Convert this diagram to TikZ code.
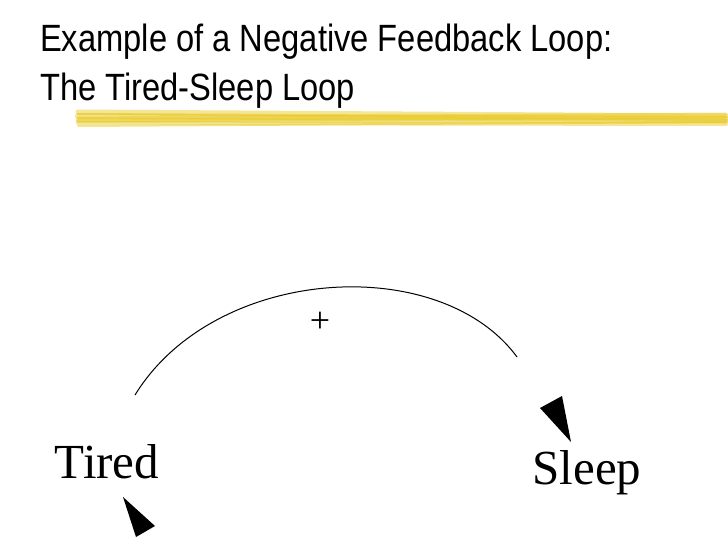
\documentclass[tikz,border=0pt]{standalone}
\usepackage{fontspec}
\setmainfont{Liberation Serif}
\newfontfamily\titlefont{Liberation Sans}
\begin{document}
\begin{tikzpicture}[x=1pt,y=-1pt,
  titletext/.style={anchor=base west,inner sep=0pt,font=\titlefont\fontsize{38}{38}\selectfont,xscale=0.86},
  label/.style={anchor=base,inner sep=0pt,font=\fontsize{49}{49}\selectfont},
  brush/.style={draw=yellow!75!orange!90!black,line cap=round,opacity=0.45}]
\useasboundingbox (0,0) rectangle (728,546);
\fill[white] (0,0) rectangle (728,546);
\node[titletext] (t1) at (40,51) {Example of a Negative Feedback Loop:};
\node[titletext] (t2) at (40,100) {The Tired-Sleep Loop};
\foreach \a/\b/\w in {112/116/5,116/119/6,120/121/5,123/124/4,118/114/3,126/122/2,114/120/2,121/117/3}
  \draw[brush,line width=\w] (78,\a) -- (726,\b);
\node[label] (tired) at (107,478) {Tired};
\node[label] (sleep) at (587,484) {Sleep};
\node[font=\fontsize{36}{36}\selectfont] (plus) at (320,322) {+};
\coordinate (a1) at (135,395);
\coordinate (a2) at (517,357);
\draw[line width=1] (a1) .. controls (215,265) and (440,252) .. (a2);
\fill (540,408) -- (562,396) -- (571,442) -- cycle;
\fill (123,497) -- (155,526) -- (136,537) -- cycle;
\end{tikzpicture}
\end{document}
